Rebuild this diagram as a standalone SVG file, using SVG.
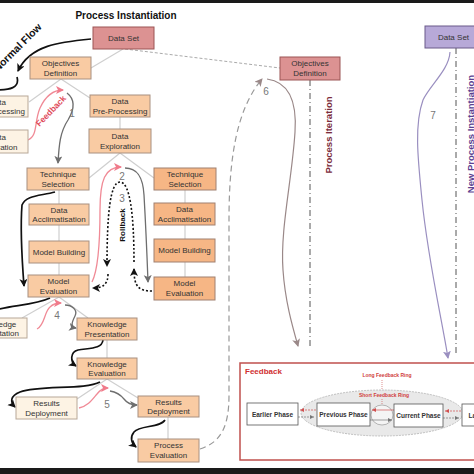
<svg xmlns="http://www.w3.org/2000/svg" width="474" height="474" viewBox="0 0 474 474">
<defs>
<style>
text{font-family:"Liberation Sans",Arial,sans-serif;}
.bt{font-size:8px;fill:#333;text-anchor:middle;}
.o{fill:#f9cba3;stroke:#a89080;stroke-width:1;}
.o2{fill:#f6b685;stroke:#a08070;stroke-width:1;}
.c{fill:#fdf3e4;stroke:#b8a898;stroke-width:1;}
.red{fill:#dc9292;stroke:#9b5555;stroke-width:1;}
.pur{fill:#b7a9d8;stroke:#6a5a8a;stroke-width:1;}
.tree{stroke:#cfcfcf;stroke-width:1.2;fill:none;}
.blk{stroke:#111;stroke-width:1.7;fill:none;}
.gry{stroke:#6e6e6e;stroke-width:1.3;fill:none;}
.pnk{stroke:#f08a96;stroke-width:1.3;fill:none;}
.dot{stroke:#111;stroke-width:1.6;fill:none;stroke-dasharray:2 2;}
.vd{stroke:#555;stroke-width:1;fill:none;stroke-dasharray:6 3 1 3;}
.num{font-size:10px;fill:#777;text-anchor:middle;}
.fb{fill:#fff;stroke:#555;stroke-width:0.8;}
.fbt{font-size:6.5px;font-weight:bold;fill:#333;text-anchor:middle;}
</style>
<marker id="mB" markerUnits="userSpaceOnUse" markerWidth="9" markerHeight="9" refX="7" refY="4" orient="auto"><path d="M0,0 L8,4 L0,8 L2,4 z" fill="#111"/></marker>
<marker id="mG" markerUnits="userSpaceOnUse" markerWidth="9" markerHeight="9" refX="7" refY="4" orient="auto"><path d="M0,0 L8,4 L0,8 L2,4 z" fill="#6e6e6e"/></marker>
<marker id="mP" markerUnits="userSpaceOnUse" markerWidth="9" markerHeight="9" refX="7" refY="4" orient="auto"><path d="M0,0 L8,4 L0,8 L2,4 z" fill="#f07a8a"/></marker>
<marker id="mU" markerUnits="userSpaceOnUse" markerWidth="9" markerHeight="9" refX="7" refY="4" orient="auto"><path d="M0,0 L8,4 L0,8 L2,4 z" fill="#9a8fc0"/></marker>
<marker id="mM" markerUnits="userSpaceOnUse" markerWidth="9" markerHeight="9" refX="7" refY="4" orient="auto"><path d="M0,0 L8,4 L0,8 L2,4 z" fill="#9a8888"/></marker>
<marker id="mR" markerUnits="userSpaceOnUse" markerWidth="5" markerHeight="5" refX="4" refY="2" orient="auto"><path d="M0,0 L4,2 L0,4 z" fill="#d05050"/></marker>
<marker id="mS" markerUnits="userSpaceOnUse" markerWidth="5" markerHeight="5" refX="4" refY="2" orient="auto"><path d="M0,0 L4,2 L0,4 z" fill="#777"/></marker>
</defs>
<rect x="0" y="0" width="474" height="474" fill="#fff"/>
<rect x="0" y="0" width="474" height="3" fill="#1a1a1a"/>
<rect x="0" y="468" width="474" height="6" fill="#1a1a1a"/>

<text x="126" y="19" style="font-size:10px;font-weight:bold;fill:#111;text-anchor:middle;">Process Instantiation</text>
<text x="20" y="50" transform="rotate(-45 20 50)" style="font-size:10.5px;font-weight:bold;fill:#111;text-anchor:middle;">Normal Flow</text>

<g id="connectors">
<path class="tree" d="M123,49 L91,68"/>
<path d="M125,49 L280,68" stroke="#aaa" stroke-width="1" fill="none" stroke-dasharray="3 2"/>
<path class="tree" d="M61,79 L29,102 M61,79 L90,98"/>
<path class="tree" d="M120,117 L120,129"/>
<path class="tree" d="M120,153 L89,178 M120,153 L154,178"/>
<path class="tree" d="M59,190 L59,204 M59,225 L59,241 M59,263 L59,275"/>
<path class="tree" d="M185,190 L185,203 M185,225 L185,239 M185,262 L185,277"/>
<path class="tree" d="M59,297 L22,318 M59,297 L88,318"/>
<path class="tree" d="M107,340 L107,358"/>
<path class="tree" d="M107,379 L77,399 M107,379 L138,398"/>
<path class="tree" d="M168,417 L168,439"/>
<path class="vd" d="M310,80 L310,348"/>
<path class="vd" d="M456,48 L456,356"/>
<!-- normal flow -->
<path class="blk" d="M91,39 C60,42 30,45 18,71" marker-end="url(#mB)"/>
<path class="blk" d="M17,77 C20,88 10,90 -5,90"/>
<!-- feedback 1 -->
<path class="pnk" d="M28,140 C38,136 34,122 40,108 C46,95 55,90 63,90" marker-end="url(#mP)"/>
<path class="gry" d="M67,93 C76,100 74,110 68,120 C60,132 59,145 58,163" marker-end="url(#mG)"/>
<!-- technique -> model eval -->
<path class="blk" d="M55,192 C40,196 26,195 22,205 C20,230 22,260 24,286" marker-end="url(#mB)"/>
<!-- rollback 2 -->
<path class="pnk" d="M92,282 C98,270 100,240 100,210 C100,180 105,167 121,167" marker-end="url(#mP)"/>
<path class="gry" d="M125,168 C138,168 143,178 144,195 C146,230 147,255 148,282" marker-end="url(#mG)"/>
<!-- rollback 3 dotted -->
<path class="dot" d="M152,291 C138,291 134,286 134,269" marker-end="url(#mB)"/>
<path class="dot" d="M134,262 C134,215 130,182 120,182 C110,182 107,215 107,266" marker-end="url(#mB)"/>
<path class="dot" d="M108,274 C108,285 102,288 93,288" marker-end="url(#mB)"/>
<!-- eval -> kp left -->
<path class="blk" d="M50,298 C35,305 15,305 -5,310"/>
<!-- 4 -->
<path class="pnk" d="M37,329 C45,325 44,312 50,307 C54,303 58,303 61,303" marker-end="url(#mP)"/>
<path class="gry" d="M65,305 C72,305 78,310 75,316 C72,322 70,327 76,328" marker-end="url(#mG)"/>
<!-- kp -> ke -->
<path class="blk" d="M103,340 C102,349 90,348 78,350 C70,352 70,362 76,366" marker-end="url(#mB)"/>
<!-- ke -> rd left -->
<path class="blk" d="M100,382 C85,390 40,385 20,392 C10,396 10,402 15,407" marker-end="url(#mB)"/>
<!-- 5 -->
<path class="pnk" d="M79,408 C88,406 92,400 97,394 C100,390 104,388 108,388" marker-end="url(#mP)"/>
<path class="gry" d="M110,391 C116,392 120,394 124,399 C127,403 131,405 137,405" marker-end="url(#mG)"/>
<!-- rd right -> pe -->
<path class="blk" d="M165,420 C160,428 140,425 134,432 C130,437 131,443 136,447" marker-end="url(#mB)"/>
<!-- 6 -->
<path d="M200,449 C222,442 229,425 229,395 L229,220 C229,160 236,110 262,79" stroke="#999" stroke-width="1.2" fill="none" stroke-dasharray="6 4" marker-end="url(#mM)"/>
<path d="M267,79 C289,82 297,102 295,132 C292,180 280,230 283,270 C285,300 292,325 298,346" stroke="#9a8888" stroke-width="1.2" fill="none" marker-end="url(#mM)"/>
<!-- 7 -->
<path d="M450,52 C449,70 430,85 423,100 C414,125 418,160 422,200 C428,260 442,320 448,358" stroke="#9a8fc0" stroke-width="1.2" fill="none" marker-end="url(#mU)"/>
</g>

<text x="72" y="117" class="num">1</text>
<text x="122" y="180" class="num">2</text>
<text x="122" y="202" class="num">3</text>
<text x="57" y="319" class="num">4</text>
<text x="107" y="408" class="num">5</text>
<text x="266" y="95" class="num">6</text>
<text x="433" y="119" class="num">7</text>
<text x="53" y="113" transform="rotate(-46 53 113)" style="font-size:8.5px;font-weight:bold;fill:#e04a5a;text-anchor:middle;">Feedback</text>
<text x="125" y="225" transform="rotate(-90 125 225)" style="font-size:8px;font-weight:bold;fill:#111;text-anchor:middle;">Rollback</text>
<text x="332" y="135" transform="rotate(-90 332 135)" style="font-size:9.5px;font-weight:bold;fill:#7b2c3b;text-anchor:middle;">Process Iteration</text>
<text x="474" y="134" transform="rotate(-90 474 134)" style="font-size:9.5px;font-weight:bold;fill:#5b3f8f;text-anchor:middle;">New Process Instantiation</text>

<g id="dataset1"><rect x="93" y="27" width="61" height="22" class="red"/><text x="123.5" y="41" class="bt">Data Set</text></g>
<g id="objdef1"><rect x="30" y="57" width="61" height="22" class="o"/><text x="60.5" y="66" class="bt">Objectives</text><text x="60.5" y="76" class="bt">Definition</text></g>
<g id="preproc_l"><rect x="-33" y="96" width="61" height="21" class="c"/><text x="-2.5" y="105" class="bt">Data</text><text x="-2.5" y="114" class="bt">Pre-Processing</text></g>
<g id="explore_l"><rect x="-33" y="130" width="61" height="23" class="c"/><text x="-2.5" y="140" class="bt">Data</text><text x="-2.5" y="150" class="bt">Exploration</text></g>
<g id="preproc"><rect x="90" y="95" width="60" height="22" class="o"/><text x="120" y="104" class="bt">Data</text><text x="120" y="114" class="bt">Pre-Processing</text></g>
<g id="explore"><rect x="89" y="129" width="62" height="24" class="o"/><text x="120" y="139" class="bt">Data</text><text x="120" y="149" class="bt">Exploration</text></g>
<g id="tech_l"><rect x="27" y="168" width="62" height="22" class="o"/><text x="58" y="177" class="bt">Technique</text><text x="58" y="187" class="bt">Selection</text></g>
<g id="accl_l"><rect x="29" y="204" width="60" height="21" class="o"/><text x="59" y="213" class="bt">Data</text><text x="59" y="222" class="bt">Acclimatisation</text></g>
<g id="build_l"><rect x="29" y="241" width="60" height="22" class="o"/><text x="59" y="255" class="bt">Model Building</text></g>
<g id="eval_l"><rect x="28" y="275" width="61" height="22" class="o"/><text x="58.5" y="284" class="bt">Model</text><text x="58.5" y="294" class="bt">Evaluation</text></g>
<g id="tech_r"><rect x="154" y="168" width="62" height="22" class="o2"/><text x="185" y="177" class="bt">Technique</text><text x="185" y="187" class="bt">Selection</text></g>
<g id="accl_r"><rect x="154" y="203" width="61" height="22" class="o2"/><text x="184.5" y="212" class="bt">Data</text><text x="184.5" y="222" class="bt">Acclimatisation</text></g>
<g id="build_r"><rect x="154" y="239" width="61" height="23" class="o2"/><text x="184.5" y="253" class="bt">Model Building</text></g>
<g id="eval_r"><rect x="154" y="277" width="61" height="23" class="o2"/><text x="184.5" y="286" class="bt">Model</text><text x="184.5" y="296" class="bt">Evaluation</text></g>
<g id="kp_l"><rect x="-34" y="318" width="61" height="20" class="c"/><text x="-3.5" y="327" class="bt">Knowledge</text><text x="-3.5" y="336" class="bt">Presentation</text></g>
<g id="kp_r"><rect x="77" y="318" width="60" height="22" class="o"/><text x="107" y="327" class="bt">Knowledge</text><text x="107" y="337" class="bt">Presentation</text></g>
<g id="ke"><rect x="77" y="358" width="60" height="21" class="o"/><text x="107" y="367" class="bt">Knowledge</text><text x="107" y="376" class="bt">Evaluation</text></g>
<g id="rd_l"><rect x="16" y="397" width="61" height="22" class="c"/><text x="46.5" y="406" class="bt">Results</text><text x="46.5" y="416" class="bt">Deployment</text></g>
<g id="rd_r"><rect x="138" y="396" width="61" height="21" class="o"/><text x="168.5" y="405" class="bt">Results</text><text x="168.5" y="414" class="bt">Deployment</text></g>
<g id="pe"><rect x="138" y="439" width="61" height="23" class="o"/><text x="168.5" y="448" class="bt">Process</text><text x="168.5" y="458" class="bt">Evaluation</text></g>
<g id="objdef2"><rect x="280" y="57" width="60" height="23" class="red"/><text x="310" y="66" class="bt">Objectives</text><text x="310" y="76" class="bt">Definition</text></g>
<g id="dataset2"><rect x="425" y="26" width="57" height="22" class="pur"/><text x="453.5" y="40" class="bt">Data Set</text></g>

<g id="feedback_panel">
<rect x="240" y="363" width="240" height="97" fill="#fff" stroke="#c0504d" stroke-width="1.5"/>
<text x="245" y="374" style="font-size:8px;font-weight:bold;fill:#d03030;">Feedback</text>
<text x="387" y="377" style="font-size:5px;font-weight:bold;fill:#d04040;text-anchor:middle;">Long Feedback Ring</text>
<path d="M382,380 L382,390" stroke="#d06060" stroke-width="0.7" stroke-dasharray="1 1"/>
<ellipse cx="382" cy="413" rx="81" ry="23" fill="#e9e9e9" stroke="#aaa" stroke-width="0.7" stroke-dasharray="2 1"/>
<text x="384" y="397" style="font-size:5px;font-weight:bold;fill:#d04040;text-anchor:middle;">Short Feedback Ring</text>
<path d="M382,399 L382,404" stroke="#d06060" stroke-width="0.7" stroke-dasharray="1 1"/>
<ellipse cx="382" cy="415" rx="11" ry="10" fill="#f4f4f4" stroke="#999" stroke-width="0.7"/>
<path d="M394,410 L372,410" stroke="#d05050" stroke-width="0.7" marker-end="url(#mR)"/>
<path d="M370,420 L392,420" stroke="#777" stroke-width="0.7" marker-end="url(#mS)"/>
<path d="M316,410 L300,410" stroke="#d05050" stroke-width="0.7" stroke-dasharray="2 1" marker-end="url(#mR)"/>
<path d="M298,417 L314,417" stroke="#777" stroke-width="0.7" stroke-dasharray="2 1" marker-end="url(#mS)"/>
<path d="M461,411 L445,411" stroke="#d05050" stroke-width="0.7" stroke-dasharray="2 1" marker-end="url(#mR)"/>
<path d="M443,418 L459,418" stroke="#777" stroke-width="0.7" stroke-dasharray="2 1" marker-end="url(#mS)"/>
<g id="earlier"><rect x="247" y="403" width="51" height="22" class="fb"/><text x="272.5" y="416.5" class="fbt">Earlier Phase</text></g>
<g id="previous"><rect x="317" y="403" width="53" height="23" class="fb"/><text x="343.5" y="417" class="fbt">Previous Phase</text></g>
<g id="current"><rect x="394" y="404" width="49" height="23" class="fb"/><text x="418.5" y="418" class="fbt">Current Phase</text></g>
<g id="later"><rect x="462" y="404" width="50" height="22" class="fb"/><text x="487" y="417.5" class="fbt">Later Phase</text></g>
</g>
</svg>
